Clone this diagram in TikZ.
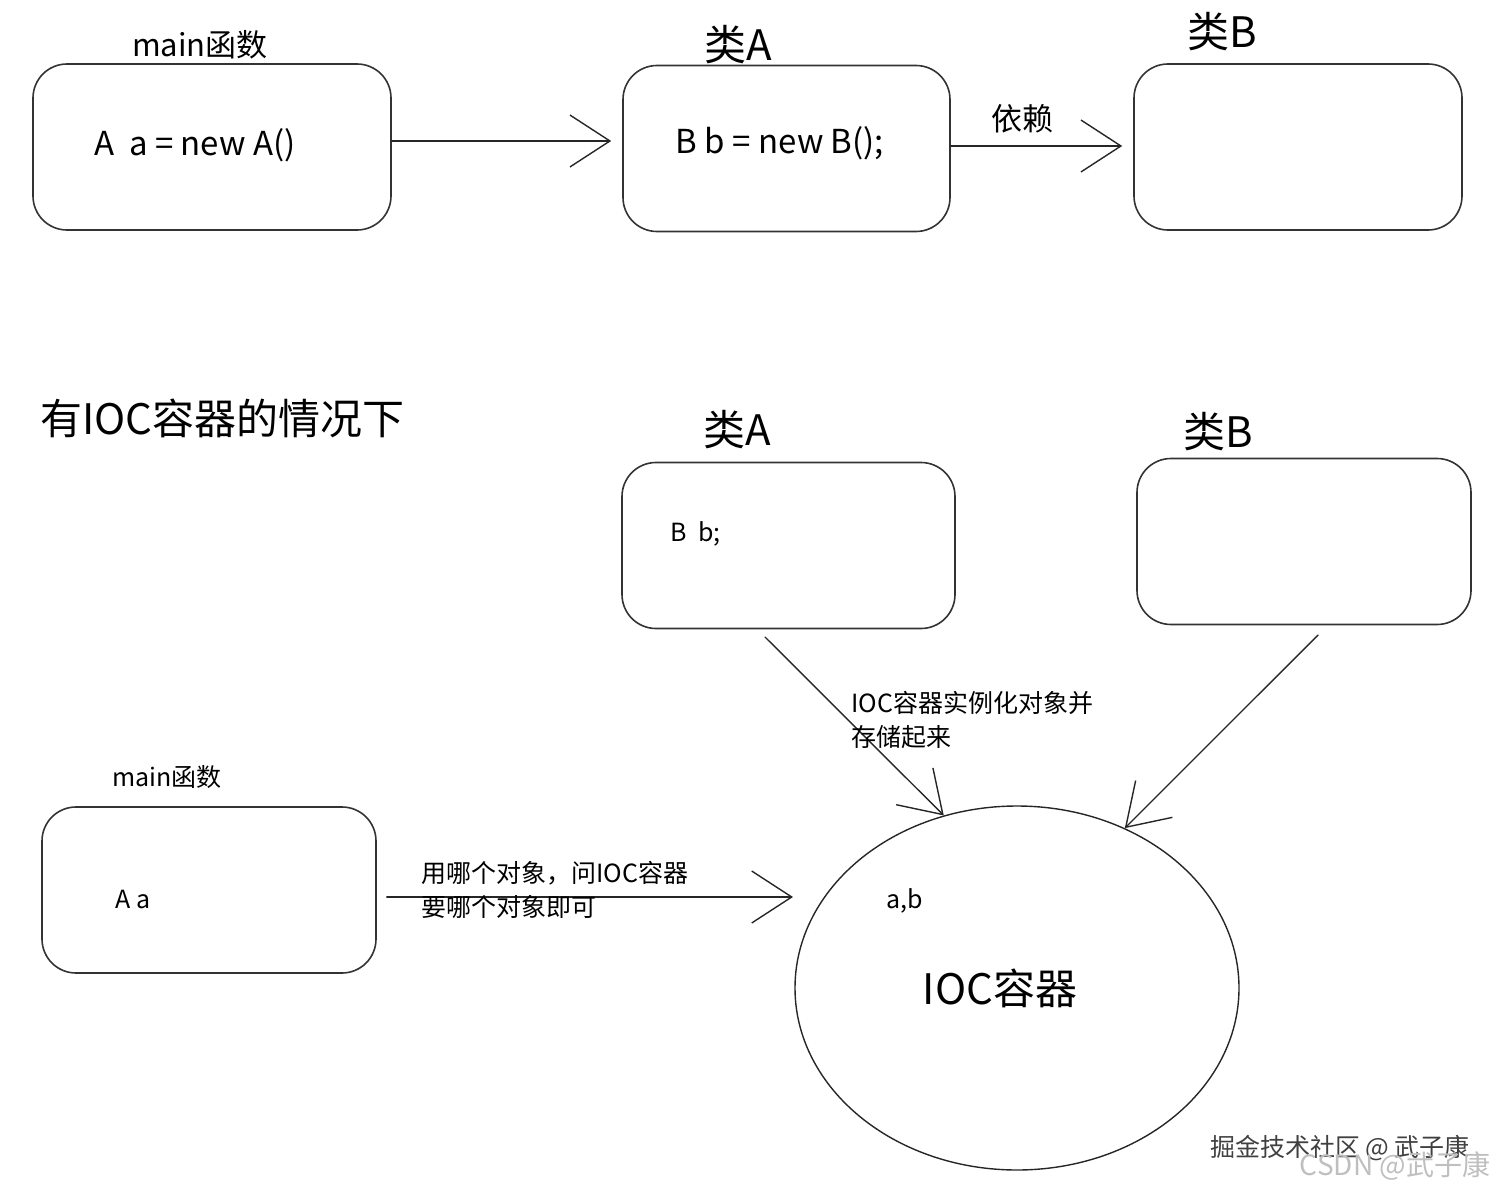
\documentclass[tikz,border=0pt]{standalone}
\usepackage{fontspec}
\setmainfont{Noto Sans CJK SC}
\usetikzlibrary{arrows.meta,shapes.geometric,calc}
\begin{document}
\begin{tikzpicture}[x=0.5pt, y=-0.5pt, line join=round, line cap=round,
		box/.style={draw=black!80, line width=0.8pt, rounded corners=17pt, minimum width=#1, minimum height=83pt, inner sep=0pt},
		arr/.style={draw=black!85, line width=0.7pt, -{Straight Barb[length=20pt, width=26pt]}},
		small/.style={font=\fontsize{12.5pt}{17pt}\selectfont, inner sep=0pt},
		mid/.style={font=\fontsize{15.5pt}{19pt}\selectfont, inner sep=0pt},
		big/.style={font=\fontsize{21pt}{25pt}\selectfont, inner sep=0pt}]
		\useasboundingbox (0,0) rectangle (1500,1193);
		\node[box=179pt] (main1) at (212,147) {};
		\node[box=163.5pt] (clsA) at (786.5,148.5) {};
		\node[box=164pt] (clsB) at (1298,147) {};
		\node[mid] (main1t) at (200,45) {main函数};
		\node[big] (clsAt) at (738,45) {类A};
		\node[big] (clsBt) at (1222,32) {类B};
		\node[mid, font=\fontsize{16.5pt}{19pt}\selectfont] (newA) at (195,145) {A\ \ a = new A()};
		\node[mid, font=\fontsize{16.5pt}{19pt}\selectfont] (newB) at (780,143) {B b = new B();};
		\draw[arr, shorten >=5.5pt] ($(main1.east)+(0,-6)$) -- ($(clsA.west)+(0,-7.5)$);
		\draw[arr, shorten >=5.5pt] ($(clsA.east)+(0,-2.5)$) -- ($(clsB.west)+(0,-1)$);
		\node[mid] (dep) at (1022,119) {依赖};
		\node[big, anchor=west] (title) at (40,418) {有IOC容器的情况下};
		\node[big] (clsA2t) at (737,430) {类A};
		\node[big] (clsB2t) at (1218,432) {类B};
		\node[box=166.5pt] (clsA2) at (788.5,545.5) {};
		\node[box=167pt] (clsB2) at (1304,541.5) {};
		\node[small, anchor=west] (fieldB) at (670,534) {B\ \ b;};
		\node[small] (main2t) at (167,777) {main函数};
		\node[box=167pt] (main2) at (209,890) {};
		\node[small, anchor=west] (fieldA) at (115,899) {A a};
		\node[draw=black!85, line width=0.7pt, ellipse, minimum width=222pt, minimum height=182pt, inner sep=0pt] (ioc) at (1017,988) {};
		\node[small] (ab) at (905,901) {a,b};
		\node[big] (iocname) at (1000,988) {IOC容器};
		\coordinate (askEnd) at (793,897);
		\coordinate (fromA) at (765,637);
		\coordinate (fromB) at (1318,635);
		\draw[arr, shorten <=5pt] (main2.east |- askEnd) -- (askEnd);
		\node[small, anchor=west, align=left] (ask) at (421,890) {用哪个对象，问IOC容器\\要哪个对象即可};
		\draw[arr] (fromA) -- (ioc.113);
		\draw[arr] (fromB) -- (ioc.56);
		\node[small, anchor=west, align=left] (store) at (851,720) {IOC容器实例化对象并\\存储起来};
		\node[small, text=black!75] (mark1) at (1340,1148) {掘金技术社区 @ 武子康};
		\node[font=\fontsize{14pt}{17pt}\selectfont, inner sep=0pt, text=black!25] (mark2) at (1395,1166) {CSDN @武子康};
	\end{tikzpicture}
\end{document}
